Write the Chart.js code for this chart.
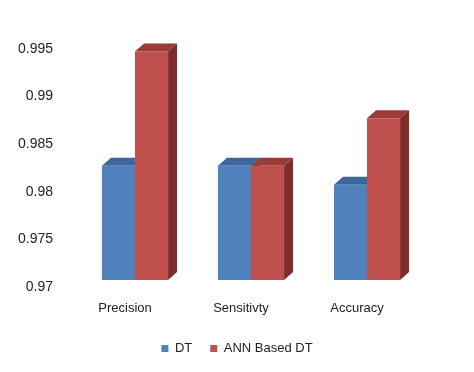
<!DOCTYPE html>
<html>
<head>
<meta charset="utf-8">
<script src="https://cdn.jsdelivr.net/npm/chart.js@4/dist/chart.umd.min.js"></script>
<style>
  html, body { margin: 0; padding: 0; background: #fff; }
  #wrap { width: 474px; height: 372px; }
</style>
</head>
<body>
<div id="wrap"><canvas id="chart"></canvas></div>
<script>
'use strict';

/* ── data ── */
const categories = ['Precision', 'Sensitivty', 'Accuracy'];
const seriesNames = ['DT', 'ANN Based DT'];
const dtValues  = [0.982, 0.982, 0.980];
const annValues = [0.994, 0.982, 0.987];
const yTicks    = [0.97, 0.975, 0.98, 0.985, 0.99, 0.995];

/* ── colours: front / top / side ── */
const BLUE  = { front: '#4f81bd', top: '#3c679c', side: '#2f5382' };
const RED   = { front: '#c0504d', top: '#9a3b38', side: '#7d2e2c' };
const DEPTH_X = 9;
const DEPTH_Y = 8;

/* draws the top and side faces of each bar, behind the front faces */
const bars3d = {
  id: 'bars3d',
  beforeDatasetsDraw(chart) {
    const ctx = chart.ctx;
    const floor = chart.chartArea.bottom;
    const n = chart.data.labels.length;
    for (let i = 0; i < n; i++) {
      chart.data.datasets.forEach((ds, di) => {
        const el = chart.getDatasetMeta(di).data[i];
        const c  = ds.faces;
        const l = el.x - el.width / 2, r = el.x + el.width / 2;
        const t = el.y, b = Math.min(el.base, floor);
        ctx.save();
        ctx.fillStyle = c.top;
        ctx.beginPath();
        ctx.moveTo(l, t);
        ctx.lineTo(l + DEPTH_X, t - DEPTH_Y);
        ctx.lineTo(r + DEPTH_X, t - DEPTH_Y);
        ctx.lineTo(r, t);
        ctx.closePath();
        ctx.fill();
        ctx.fillStyle = c.side;
        ctx.beginPath();
        ctx.moveTo(r, t);
        ctx.lineTo(r + DEPTH_X, t - DEPTH_Y);
        ctx.lineTo(r + DEPTH_X, b - DEPTH_Y);
        ctx.lineTo(r, b);
        ctx.closePath();
        ctx.fill();
        ctx.restore();
      });
    }
  }
};

const FONT = 'Liberation Sans, Arial, sans-serif';

new Chart(document.getElementById('chart'), {
  type: 'bar',
  data: {
    labels: categories,
    datasets: [
      { label: seriesNames[0], data: dtValues,  backgroundColor: BLUE.front, faces: BLUE },
      { label: seriesNames[1], data: annValues, backgroundColor: RED.front,  faces: RED }
    ]
  },
  options: {
    responsive: true,
    maintainAspectRatio: false,
    animation: false,
    layout: { padding: { top: 42, right: 0, bottom: 7, left: 0 } },
    datasets: { bar: { categoryPercentage: 0.57, barPercentage: 1.0 } },
    plugins: {
      legend: {
        position: 'bottom',
        labels: {
          color: '#222',
          font: { size: 13, family: FONT },
          boxWidth: 7, boxHeight: 7,
          padding: 18
        }
      },
      tooltip: { enabled: false }
    },
    scales: {
      x: {
        grid: { display: false, drawTicks: false },
        border: { display: false },
        ticks: { color: '#222', font: { size: 13, family: FONT }, padding: 21, labelOffset: -10 },
        afterFit(s) { s.height = 44; }
      },
      y: {
        min: yTicks[0],
        max: yTicks[yTicks.length - 1],
        grid: { display: false, drawTicks: false },
        border: { display: false },
        afterBuildTicks(s) { s.ticks = yTicks.map(v => ({ value: v })); },
        ticks: {
          color: '#222',
          font: { size: 14, family: FONT },
          padding: 24,
          labelOffset: 7,
          callback: v => String(v)
        },
        afterFit(s) { s.width = 77; }
      },
      /* empty right margin so the legend centres on the whole picture */
      spacer: {
        position: 'right',
        display: true,
        grid: { display: false, drawTicks: false },
        border: { display: false },
        ticks: { display: false },
        afterFit(s) { s.width = 49; }
      }
    }
  },
  plugins: [bars3d]
});
</script>
</body>
</html>
